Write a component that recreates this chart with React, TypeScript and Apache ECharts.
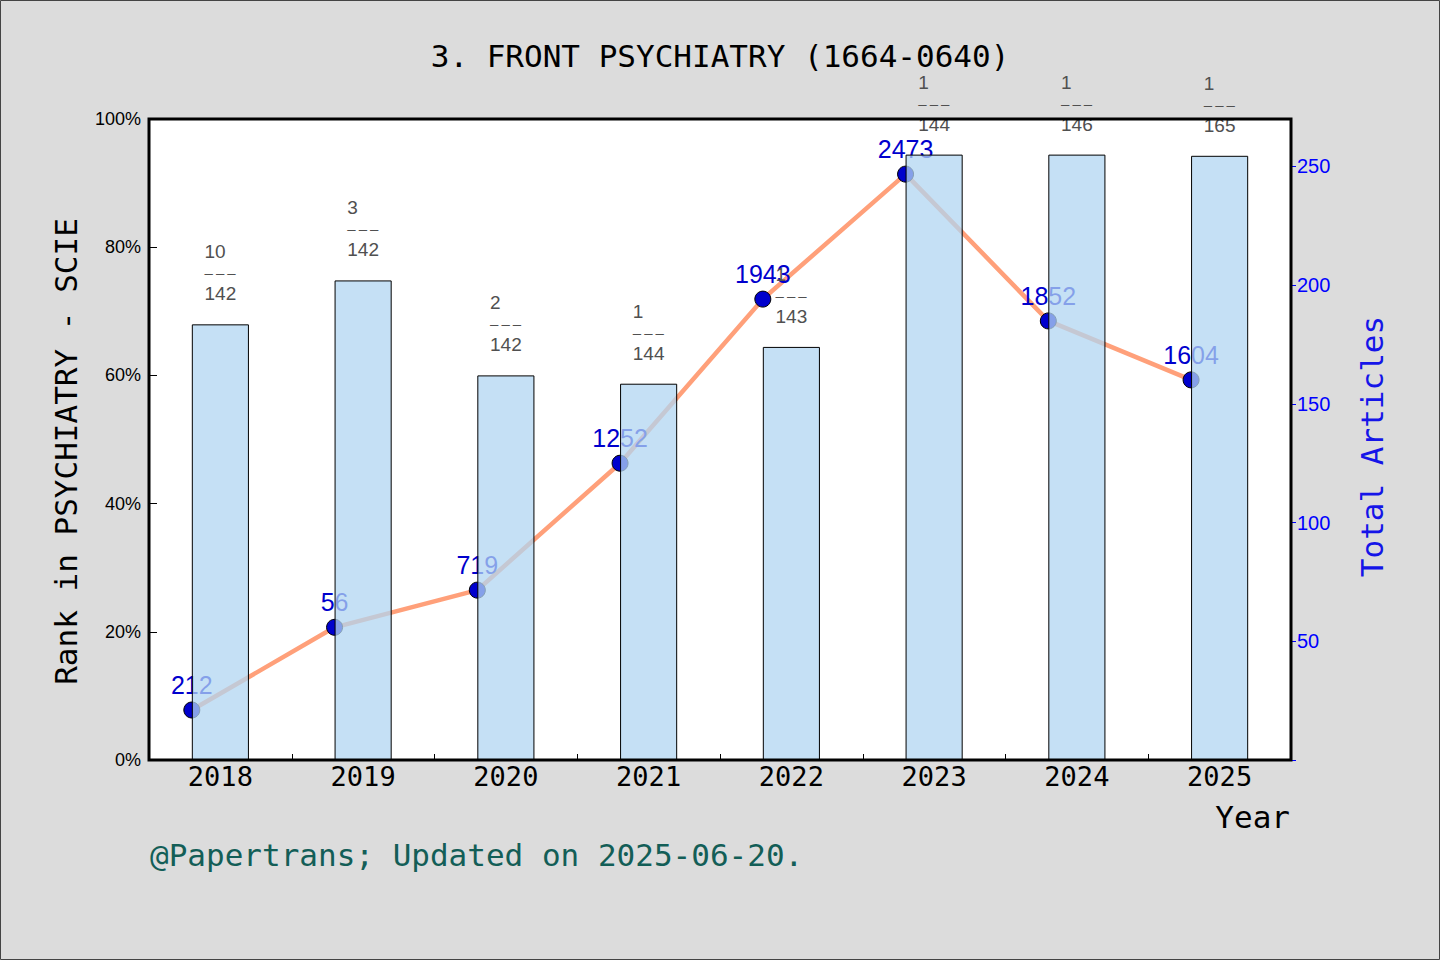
import React, { useEffect, useRef } from "react";
import * as echarts from "echarts";

const years = ["2018", "2019", "2020", "2021", "2022", "2023", "2024", "2025"];
const totalArticles = [183.5, 202, 162, 158.5, 174, 255, 255, 254.5];
const rankPercent = [7.8, 20.7, 26.5, 46.3, 71.9, 91.4, 68.5, 59.3];
const rankLabels = ["212", "56", "719", "1252", "1943", "2473", "1852", "1604"];
const rankNumerators = ["10", "3", "2", "1", "1", "1", "1", "1"];
const rankDenominators = ["142", "142", "142", "144", "143", "144", "146", "165"];
const leftTicks = [0, 20, 40, 60, 80, 100];
const rightTicks = [0, 50, 100, 150, 200, 250];
const rightLabels = [50, 100, 150, 200, 250];

const W = 1440;
const H = 960;
const GRID = { left: 149, top: 119, width: 1142, height: 641 };
const BAR_FRAC = 0.4;
const MONO = '"DejaVu Sans Mono", monospace';
const SANS = '"Liberation Sans", Arial, sans-serif';
const DASH = "\u2013\u2009\u2013\u2009\u2013";

export default function App() {
  const ref = useRef<HTMLDivElement>(null);
  useEffect(() => {
    document.body.style.margin = "0";
    if (!ref.current) return;
    const chart = echarts.init(ref.current, null, { renderer: "svg" });
    const option: any = {
      animation: false,
      backgroundColor: "#dcdcdc",
      title: {
        text: "3. FRONT PSYCHIATRY (1664-0640)",
        left: "center",
        top: 35,
        textStyle: { fontFamily: MONO, fontSize: 31, fontWeight: "normal", color: "#000" },
      },
      grid: {
        left: GRID.left,
        top: GRID.top,
        width: GRID.width,
        height: GRID.height,
        show: true,
        backgroundColor: "#ffffff",
        borderWidth: 0,
      },
      xAxis: [
        {
          type: "category",
          data: years,
          axisLine: { show: false },
          axisTick: { show: true, inside: true, length: 6, lineStyle: { color: "#000" } },
          axisLabel: { fontFamily: MONO, fontSize: 27, color: "#000", margin: 3 },
        },
        { type: "value", min: 0, max: years.length, show: false },
      ],
      yAxis: [
        {
          type: "value",
          min: leftTicks[0],
          max: leftTicks[leftTicks.length - 1],
          interval: 20,
          axisLine: { show: false },
          splitLine: { show: false },
          axisTick: { show: true, inside: true, length: 8, lineStyle: { color: "#000" } },
          axisLabel: { formatter: "{value}%", fontFamily: SANS, fontSize: 18, color: "#000", margin: 8 },
          name: "Rank in PSYCHIATRY - SCIE",
          nameLocation: "middle",
          nameGap: 68,
          nameTextStyle: { fontFamily: MONO, fontSize: 31, color: "#000", padding: [0, 24, 0, 0] },
        },
        {
          type: "value",
          position: "right",
          min: 0,
          max: 270,
          interval: 50,
          axisLine: { show: false },
          splitLine: { show: false },
          axisTick: {
            show: true,
            inside: false,
            length: 5,
            customValues: rightTicks,
            lineStyle: { color: "#0000ff" },
          },
          axisLabel: {
            customValues: rightLabels,
            fontFamily: SANS,
            fontSize: 20,
            color: "#0000ff",
            margin: 6,
          },
          name: "Total Articles",
          nameLocation: "middle",
          nameGap: 65,
          nameTextStyle: { fontFamily: MONO, fontSize: 31, color: "#1515e8", padding: [0, 14, 0, 0] },
        },
      ],
      series: [
        {
          type: "line",
          xAxisIndex: 1,
          yAxisIndex: 0,
          z: 1,
          data: years.map((_, i) => [i + 0.5 - BAR_FRAC / 2, rankPercent[i]]),
          symbol: "circle",
          symbolSize: 16,
          itemStyle: { color: "#0000cd", borderColor: "#000", borderWidth: 1 },
          lineStyle: { color: "#ffa07a", width: 4.5 },
          label: {
            show: true,
            position: "top",
            distance: 4,
            formatter: (p: any) => rankLabels[p.dataIndex],
            fontFamily: SANS,
            fontSize: 25,
            color: "#0000cd",
          },
        },
        {
          type: "bar",
          xAxisIndex: 0,
          yAxisIndex: 1,
          z: 2,
          barWidth: BAR_FRAC * 100 + "%",
          data: totalArticles,
          itemStyle: { color: "rgba(178,214,242,0.75)", borderColor: "#000", borderWidth: 1 },
          label: {
            show: true,
            position: "top",
            distance: 20,
            formatter: (p: any) =>
              `{n|${rankNumerators[p.dataIndex]}}\n{d|${DASH}}\n{n|${rankDenominators[p.dataIndex]}}`,
            rich: {
              n: { fontFamily: SANS, fontSize: 19, color: "#505050", lineHeight: 21, align: "left" },
              d: { fontFamily: SANS, fontSize: 15, color: "#505050", lineHeight: 21, align: "left" },
            },
          },
        },
      ],
      graphic: [
        {
          type: "rect",
          z: 100,
          silent: true,
          shape: { x: GRID.left, y: GRID.top, width: GRID.width, height: GRID.height },
          style: { fill: "none", stroke: "#000", lineWidth: 3 },
        },
        {
          type: "rect",
          z: 100,
          silent: true,
          shape: { x: 0.5, y: 0.5, width: W - 1, height: H - 1 },
          style: { fill: "none", stroke: "#444", lineWidth: 1 },
        },
        {
          type: "text",
          z: 100,
          x: GRID.left + GRID.width - 1,
          y: 817,
          style: {
            text: "Year",
            font: `31px ${MONO}`,
            fill: "#000",
            align: "right",
            verticalAlign: "middle",
          },
        },
        {
          type: "text",
          z: 100,
          x: 150,
          y: 855,
          style: {
            text: "@Papertrans; Updated on 2025-06-20.",
            font: `31px ${MONO}`,
            fill: "#135e57",
            align: "left",
            verticalAlign: "middle",
          },
        },
      ],
    };
    chart.setOption(option);
    return () => chart.dispose();
  }, []);
  return <div ref={ref} style={{ width: W, height: H }} />;
}
